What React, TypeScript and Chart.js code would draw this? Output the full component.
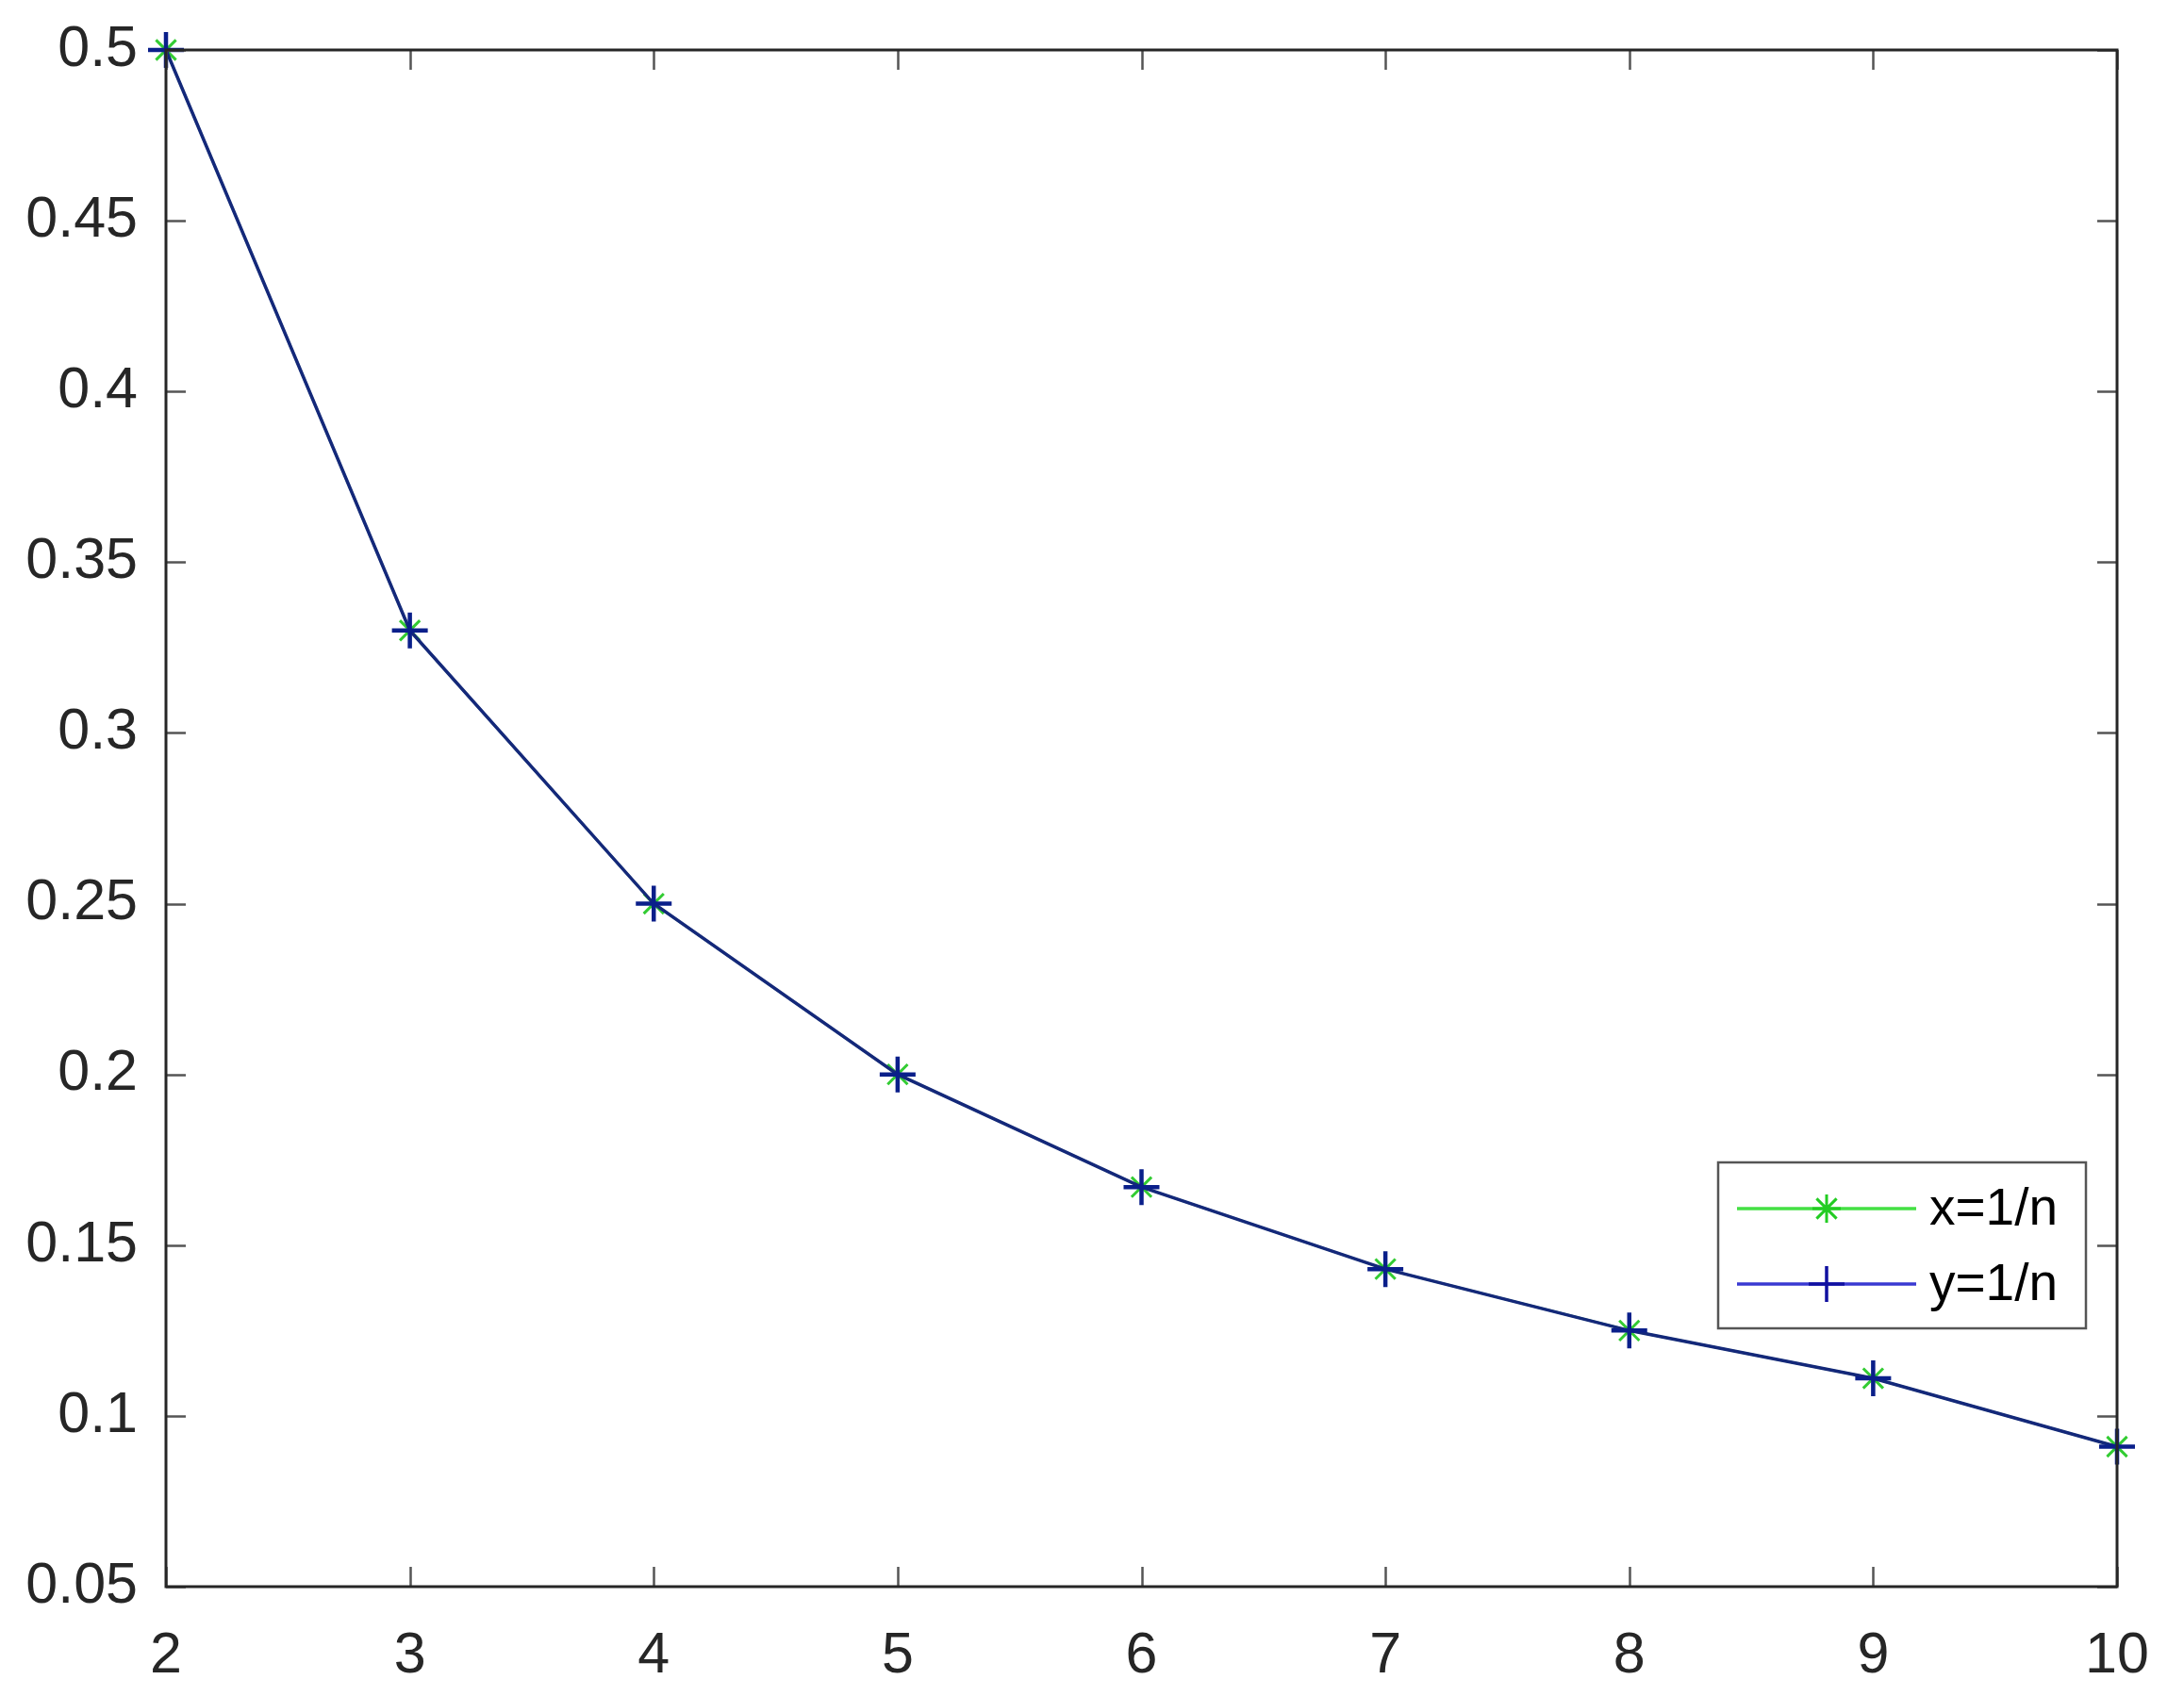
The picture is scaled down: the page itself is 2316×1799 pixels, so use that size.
import React, { useEffect, useRef } from 'react';
import { Chart, registerables } from 'chart.js';

Chart.register(...registerables);

const categories = [2, 3, 4, 5, 6, 7, 8, 9, 10];
const seriesX = [0.5, 0.33, 0.25, 0.2, 0.167, 0.143, 0.125, 0.111, 0.091];
const seriesY = [0.5, 0.33, 0.25, 0.2, 0.167, 0.143, 0.125, 0.111, 0.091];
const seriesLabels = ['x=1/n', 'y=1/n'];
const xTickValues = [2, 3, 4, 5, 6, 7, 8, 9, 10];
const xTickLabels = ['2', '3', '4', '5', '6', '7', '8', '9', '10'];
const yTickValues = [0.05, 0.1, 0.15, 0.2, 0.25, 0.3, 0.35, 0.4, 0.45, 0.5];
const yTickLabels = ['0.05', '0.1', '0.15', '0.2', '0.25', '0.3', '0.35', '0.4', '0.45', '0.5'];

const GREEN = '#2fd62f';
const BLUE_LINE = '#14287a';
const BLUE_MARK = '#0a1f8a';
const LEGEND_GREEN = '#44e044';
const LEGEND_BLUE = '#3a3ad2';
const FONT = '"Liberation Sans", Arial, sans-serif';

const framePlugin = {
  id: 'matlabFrame',
  afterDatasetsDraw(chart: any) {
    const { ctx, chartArea: a, scales } = chart;
    const tl = 21;
    ctx.save();
    ctx.strokeStyle = '#555555';
    ctx.lineWidth = 2.5;
    ctx.beginPath();
    for (const v of yTickValues) {
      const py = Math.round(scales.y.getPixelForValue(v)) + 0.5;
      ctx.moveTo(a.left, py);
      ctx.lineTo(a.left + tl, py);
      ctx.moveTo(a.right, py);
      ctx.lineTo(a.right - tl, py);
    }
    for (const v of xTickValues) {
      const px = Math.round(scales.x.getPixelForValue(v)) + 0.5;
      ctx.moveTo(px, a.bottom);
      ctx.lineTo(px, a.bottom - tl);
      ctx.moveTo(px, a.top);
      ctx.lineTo(px, a.top + tl);
    }
    ctx.stroke();
    ctx.strokeStyle = '#262626';
    ctx.lineWidth = 3;
    ctx.strokeRect(a.left, a.top, a.right - a.left, a.bottom - a.top);
    ctx.restore();
  },
  afterDraw(chart: any) {
    const { ctx, chartArea: a } = chart;
    const w = 390;
    const h = 176;
    const right = a.right - 33;
    const bottom = a.bottom - 274;
    const left = right - w;
    const top = bottom - h;
    ctx.save();
    ctx.fillStyle = '#ffffff';
    ctx.fillRect(left, top, w, h);
    ctx.strokeStyle = '#555555';
    ctx.lineWidth = 2.5;
    ctx.strokeRect(left, top, w, h);
    const rows = [top + 49, top + 129];
    const colors = [LEGEND_GREEN, LEGEND_BLUE];
    rows.forEach((ry, i) => {
      ctx.strokeStyle = colors[i];
      ctx.lineWidth = 3.5;
      ctx.beginPath();
      ctx.moveTo(left + 20, ry);
      ctx.lineTo(left + 210, ry);
      ctx.stroke();
      const mx = left + 115;
      if (i === 0) {
        const r = 15;
        ctx.strokeStyle = '#22cc22';
        ctx.lineWidth = 3;
        ctx.beginPath();
        for (let k = 0; k < 4; k++) {
          const ang = (k * Math.PI) / 4;
          ctx.moveTo(mx - r * Math.cos(ang), ry - r * Math.sin(ang));
          ctx.lineTo(mx + r * Math.cos(ang), ry + r * Math.sin(ang));
        }
        ctx.stroke();
      } else {
        const r = 19;
        ctx.strokeStyle = '#1010a0';
        ctx.lineWidth = 3.5;
        ctx.beginPath();
        ctx.moveTo(mx, ry - r);
        ctx.lineTo(mx, ry + r);
        ctx.moveTo(mx - r, ry);
        ctx.lineTo(mx + r, ry);
        ctx.stroke();
      }
      ctx.fillStyle = '#000000';
      ctx.font = `55px ${FONT}`;
      ctx.textAlign = 'left';
      ctx.textBaseline = 'middle';
      ctx.fillText(seriesLabels[i], left + 224, ry + 2);
    });
    ctx.restore();
  },
};

export default function App() {
  const ref = useRef<HTMLCanvasElement | null>(null);
  useEffect(() => {
    document.body.style.margin = '0';
    if (!ref.current) return;
    const chart = new Chart(ref.current, {
      type: 'line',
      data: {
        datasets: [
          {
            label: seriesLabels[0],
            data: categories.map((c, i) => ({ x: c, y: seriesX[i] })),
            borderColor: GREEN,
            backgroundColor: GREEN,
            borderWidth: 2.5,
            pointStyle: 'star',
            pointRadius: 15,
            pointBorderWidth: 3,
            pointBorderColor: '#33cc33',
            fill: false,
            tension: 0,
            clip: false,
            order: 2,
          },
          {
            label: seriesLabels[1],
            data: categories.map((c, i) => ({ x: c, y: seriesY[i] })),
            borderColor: BLUE_LINE,
            backgroundColor: BLUE_MARK,
            borderWidth: 3.5,
            pointStyle: 'cross',
            pointRadius: 19,
            pointBorderWidth: 4.5,
            pointBorderColor: BLUE_MARK,
            fill: false,
            tension: 0,
            clip: false,
            order: 1,
          },
        ],
      },
      options: {
        animation: false,
        responsive: false,
        devicePixelRatio: 1,
        events: [],
        layout: { padding: { left: 0, top: 53, right: 71, bottom: 0 } },
        plugins: {
          legend: { display: false },
          tooltip: { enabled: false },
          title: { display: false },
        },
        scales: {
          x: {
            type: 'linear',
            min: 2,
            max: 10,
            afterBuildTicks: (scale: any) => {
              scale.ticks = xTickValues.map((v) => ({ value: v }));
            },
            afterFit: (scale: any) => {
              scale.height = 116;
              scale.paddingLeft = 0;
              scale.paddingRight = 0;
            },
            grid: { display: false, drawTicks: false },
            border: { display: false },
            ticks: {
              padding: 38,
              color: '#262626',
              font: { family: FONT, size: 61 },
              maxRotation: 0,
              autoSkip: false,
              callback: (_v: any, i: number) => xTickLabels[i],
            },
          },
          y: {
            type: 'linear',
            min: 0.05,
            max: 0.5,
            afterBuildTicks: (scale: any) => {
              scale.ticks = yTickValues.map((v) => ({ value: v }));
            },
            afterFit: (scale: any) => {
              scale.width = 176;
              scale.paddingTop = 0;
              scale.paddingBottom = 0;
            },
            grid: { display: false, drawTicks: false },
            border: { display: false },
            ticks: {
              padding: 30,
              color: '#262626',
              font: { family: FONT, size: 61 },
              autoSkip: false,
              callback: (_v: any, i: number) => yTickLabels[i],
            },
          },
        },
      },
      plugins: [framePlugin],
    });
    return () => chart.destroy();
  }, []);
  return (
    <div style={{ width: 2316, height: 1799, background: '#ffffff' }}>
      <canvas ref={ref} width={2316} height={1799} style={{ display: 'block', width: 2316, height: 1799 }} />
    </div>
  );
}
